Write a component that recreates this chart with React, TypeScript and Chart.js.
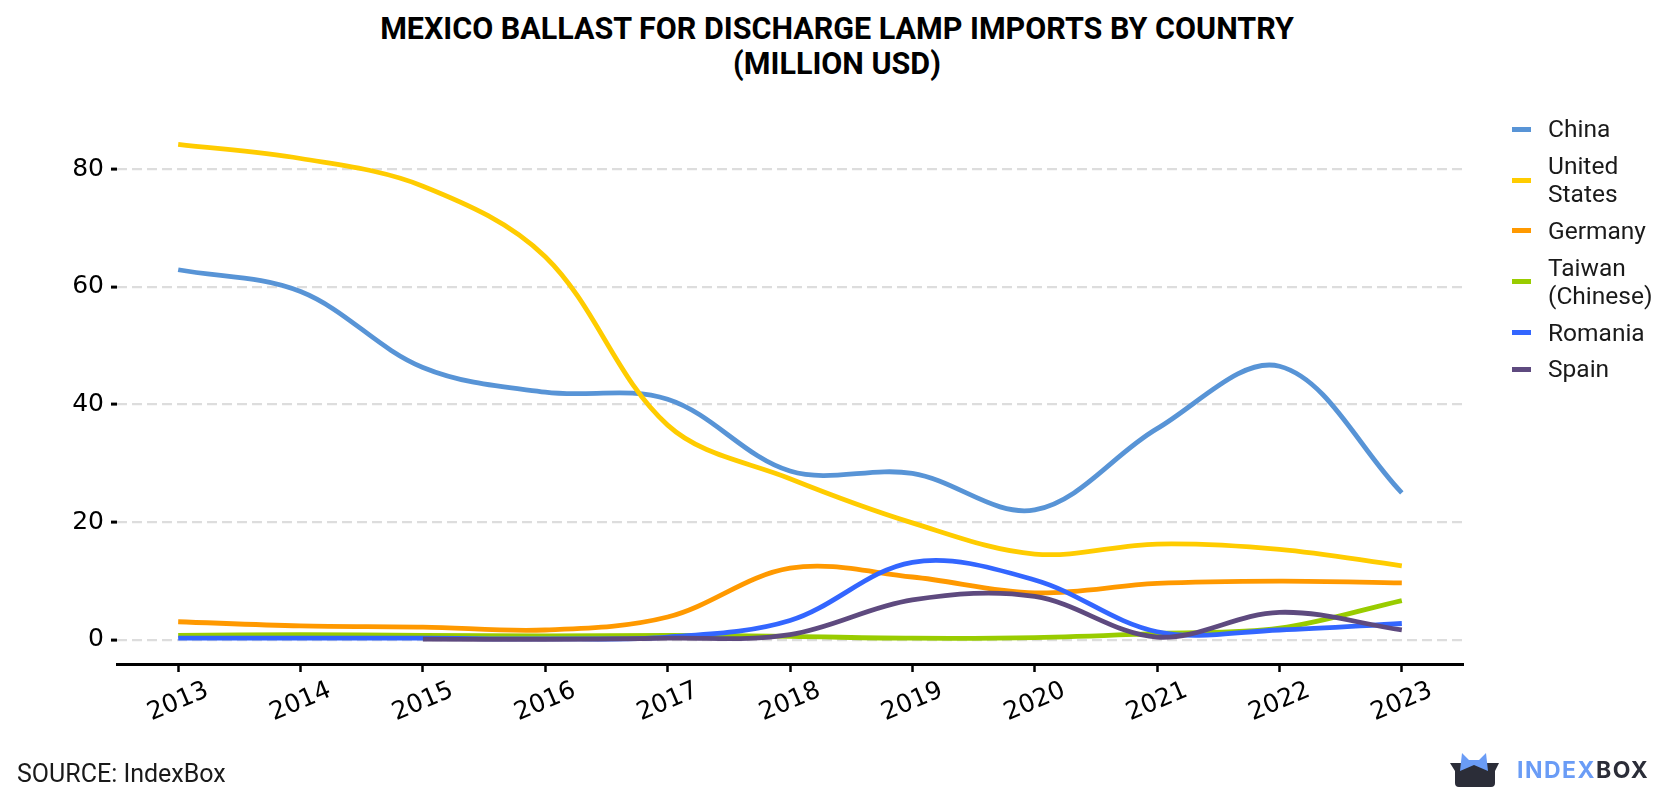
import React, { useEffect, useRef } from "react";
import { Chart, registerables } from "chart.js";

Chart.register(...registerables);

// Import values, million USD
const years = ["2013", "2014", "2015", "2016", "2017", "2018", "2019", "2020", "2021", "2022", "2023"];
const china = [62.9, 59.2, 46.3, 42.1, 40.9, 28.7, 28.3, 22.1, 35.9, 46.5, 25.0];
const unitedStates = [84.2, 81.8, 77.1, 65.1, 36.5, 27.4, 19.9, 14.6, 16.3, 15.4, 12.6];
const germany = [3.1, 2.4, 2.2, 1.7, 3.9, 12.2, 10.7, 8.0, 9.6, 10.0, 9.7];
const taiwan = [0.8, 0.9, 0.8, 0.7, 0.8, 0.6, 0.3, 0.4, 1.1, 2.0, 6.7];
const romania = [0.3, 0.3, 0.3, 0.2, 0.5, 3.3, 13.2, 10.2, 1.4, 1.7, 2.8];
const spain = [null, null, 0.15, 0.1, 0.3, 0.9, 6.8, 7.4, 0.5, 4.7, 1.7];
const yTicks = [0, 20, 40, 60, 80];

const series = [
  { name: ["China"], color: "#5894d6", data: china },
  { name: ["United", "States"], color: "#ffcc00", data: unitedStates },
  { name: ["Germany"], color: "#ff9900", data: germany },
  { name: ["Taiwan", "(Chinese)"], color: "#99cc00", data: taiwan },
  { name: ["Romania"], color: "#3366ff", data: romania },
  { name: ["Spain"], color: "#5e4a7f", data: spain },
];

const TICK_FONT = '25px "DejaVu Sans"';

// Rotated year labels, centred under each tick
const yearLabels = {
  id: "yearLabels",
  afterDraw(chart: any) {
    const { ctx } = chart;
    const x = chart.scales.x;
    ctx.save();
    ctx.font = TICK_FONT;
    ctx.fillStyle = "#000";
    ctx.textAlign = "center";
    ctx.textBaseline = "middle";
    x.ticks.forEach((t: any, i: number) => {
      const px = x.getPixelForTick(i);
      ctx.save();
      ctx.translate(px, 702);
      ctx.rotate((-23 * Math.PI) / 180);
      ctx.fillText(String(x.getLabelForValue(t.value)), 0, 0);
      ctx.restore();
    });
    ctx.restore();
  },
};

function LineChart() {
  const ref = useRef<HTMLCanvasElement | null>(null);
  useEffect(() => {
    if (!ref.current) return;
    const chart = new Chart(ref.current, {
      type: "line",
      data: {
        labels: years,
        datasets: series.map((s, i) => ({
          label: s.name.join(" "),
          data: s.data,
          borderColor: s.color,
          backgroundColor: s.color,
          borderWidth: 4.8,
          pointRadius: 0,
          tension: 0.35,
          fill: false,
          order: series.length - i,
        })),
      },
      options: {
        responsive: false,
        animation: false,
        devicePixelRatio: 1,
        layout: { padding: { top: 122, right: 217, bottom: 0, left: 0 } },
        plugins: { legend: { display: false }, title: { display: false }, tooltip: { enabled: false } },
        scales: {
          x: {
            type: "category",
            offset: true,
            afterFit(scale: any) {
              scale.height = 136;
            },
            grid: {
              display: true,
              offset: false,
              drawOnChartArea: false,
              drawTicks: true,
              tickLength: 8,
              tickColor: "#000",
              tickWidth: 2.5,
            },
            border: { display: true, color: "#000", width: 3 },
            ticks: { display: false },
          },
          y: {
            min: -4.08,
            max: 88,
            afterFit(scale: any) {
              scale.width = 117;
            },
            afterBuildTicks(scale: any) {
              scale.ticks = yTicks.map((v) => ({ value: v }));
            },
            grid: {
              color: "#dddddd",
              lineWidth: 2.2,
              drawTicks: true,
              tickLength: 6,
              tickColor: "#000",
              tickWidth: 3,
              tickBorderDash: [],
            },
            border: { display: false, dash: [10, 5] },
            ticks: {
              padding: 7,
              color: "#000",
              font: { family: "DejaVu Sans", size: 25 },
            },
          },
        },
      },
      plugins: [yearLabels],
    });
    return () => chart.destroy();
  }, []);
  return (
    <canvas
      ref={ref}
      width={1680}
      height={800}
      style={{ position: "absolute", left: 0, top: 0, width: 1680, height: 800 }}
    />
  );
}

function Legend() {
  return (
    <div style={{ position: "absolute", left: 1512, top: 111, fontFamily: "Roboto", fontSize: 24.5, lineHeight: "28px", color: "#1a1a1a" }}>
      {series.map((s) => (
        <div key={s.name.join(" ")} style={{ display: "flex", alignItems: "center", padding: "4.4px 0" }}>
          <div style={{ width: 19, height: 5, background: s.color, marginRight: 17, flex: "none" }} />
          <div>
            {s.name.map((line) => (
              <div key={line}>{line}</div>
            ))}
          </div>
        </div>
      ))}
    </div>
  );
}

function Logo() {
  return (
    <div style={{ position: "absolute", left: 1450, top: 752, height: 36, display: "flex", alignItems: "center" }}>
      <svg width="50" height="36" viewBox="0 0 50 36">
        <path d="M0 11 H49 L45 19 V31 Q45 35 41 35 H9 Q5 35 5 31 V19 Z" fill="#2b2d38" />
        <path d="M10 19 L12 1 L19 8 L29 8 L36 1 L38 19 L24 13 Z" fill="#6a9cf6" />
      </svg>
      <div style={{ marginLeft: 17, fontFamily: "Inter", fontWeight: 700, fontSize: 23, letterSpacing: 1.5, lineHeight: "24px" }}>
        <span style={{ color: "#6a9cf6" }}>INDEX</span>
        <span style={{ color: "#2b2d38" }}>BOX</span>
      </div>
    </div>
  );
}

export default function App() {
  return (
    <div style={{ position: "fixed", left: 0, top: 0, width: 1680, height: 800, background: "#fff", overflow: "hidden" }}>
      <div
        style={{
          position: "absolute",
          left: 0,
          top: 11,
          width: 1674,
          textAlign: "center",
          fontFamily: "Roboto",
          fontWeight: 700,
          fontSize: 30.5,
          lineHeight: "35px",
          color: "#000",
        }}
      >
        <div>MEXICO BALLAST FOR DISCHARGE LAMP IMPORTS BY COUNTRY</div>
        <div>(MILLION USD)</div>
      </div>
      <LineChart />
      <Legend />
      <div style={{ position: "absolute", left: 17, top: 760, fontFamily: "Roboto", fontSize: 25, lineHeight: "28px", color: "#1a1a1a" }}>
        SOURCE: IndexBox
      </div>
      <Logo />
    </div>
  );
}
